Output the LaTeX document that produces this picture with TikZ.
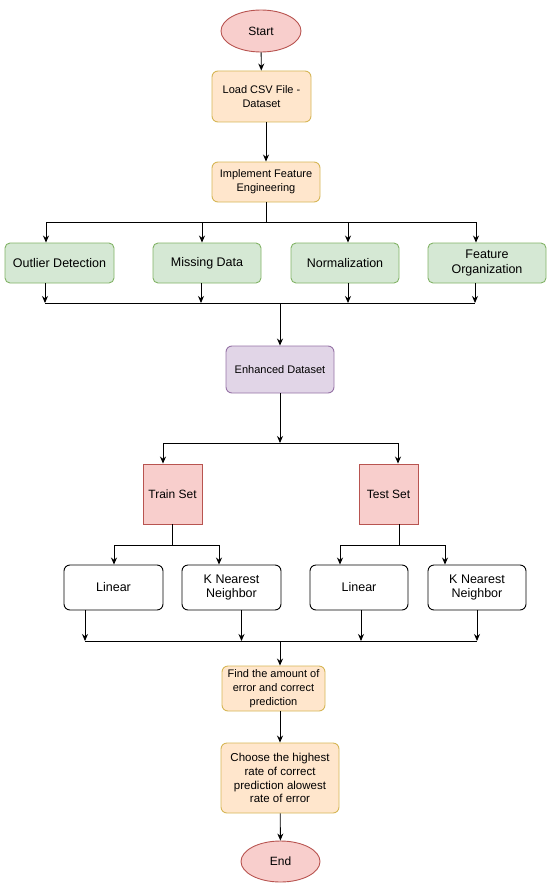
\documentclass[tikz,border=0pt]{standalone}
\usepackage{fontspec}
\setmainfont{Liberation Sans}
\usetikzlibrary{shapes.geometric,arrows.meta}
\definecolor{orfill}{HTML}{FFE6CC}\definecolor{ordraw}{HTML}{D6B656}
\definecolor{grfill}{HTML}{D5E8D4}\definecolor{grdraw}{HTML}{82B366}
\definecolor{pufill}{HTML}{E1D5E7}\definecolor{pudraw}{HTML}{9673A6}
\definecolor{rdfill}{HTML}{F8CECC}\definecolor{rddraw}{HTML}{B85450}
\tikzset{
  base/.style={inner sep=0pt, align=center, font=\fontsize{11}{13.8}\selectfont, line width=0.9pt},
  oval/.style={base, ellipse, fill=rdfill, draw=rddraw, font=\fontsize{12}{14}\selectfont},
  orbox/.style={base, rectangle, rounded corners=6pt, fill=orfill, draw=ordraw},
  grbox/.style={base, rectangle, rounded corners=5pt, fill=grfill, draw=grdraw, minimum height=40pt, font=\fontsize{12.5}{14.5}\selectfont},
  pubox/.style={base, rectangle, rounded corners=6pt, fill=pufill, draw=pudraw},
  rdbox/.style={base, rectangle, fill=rdfill, draw=rddraw, minimum width=59pt, minimum height=60pt, font=\fontsize{12}{14}\selectfont},
  whbox/.style={base, rectangle, rounded corners=6pt, fill=white, draw=black, minimum height=45pt, font=\fontsize{12.5}{14.8}\selectfont},
  conn/.style={line width=0.9pt, draw=black},
  arr/.style={conn, -{Stealth[length=7pt,width=6pt]}}
}
\begin{document}
\begin{tikzpicture}[x=1pt,y=-1pt]
\useasboundingbox (0,0) rectangle (550,888);
% nodes
\node[oval, minimum width=80pt, minimum height=42pt] (start) at (261,31) {Start};
\node[orbox, minimum width=99pt, minimum height=51pt] (load) at (261.5,96.5) {Load CSV File -\\Dataset};
\node[orbox, minimum width=108pt, minimum height=40pt] (impl) at (266,182) {Implement Feature\\Engineering};
\node[grbox, minimum width=109pt] (out) at (59.5,263) {Outlier Detection};
\node[grbox, minimum width=108pt] (miss) at (207,263) {Missing Data};
\node[grbox, minimum width=108pt] (norm) at (345,263) {Normalization};
\node[grbox, minimum width=118pt] (feat) at (487,263) {Feature\\Organization};
\node[pubox, minimum width=108pt, minimum height=47pt] (enh) at (280,369.5) {Enhanced Dataset};
\node[rdbox] (train) at (172.5,494) {Train Set};
\node[rdbox] (test) at (388.5,494) {Test Set};
\node[whbox, minimum width=99pt] (lin1) at (113.5,587.5) {Linear};
\node[whbox, minimum width=99pt] (knn1) at (231.5,587.5) {K Nearest\\Neighbor};
\node[whbox, minimum width=98pt] (lin2) at (359,587.5) {Linear};
\node[whbox, minimum width=98pt] (knn2) at (477,587.5) {K Nearest\\Neighbor};
\node[orbox, minimum width=103pt, minimum height=45pt] (find) at (273.5,688.5) {Find the amount of\\error and correct\\prediction};
\node[orbox, minimum width=118pt, minimum height=70pt, font=\fontsize{11.5}{13.8}\selectfont] (choose) at (280,778) {Choose the highest\\rate of correct\\prediction alowest\\rate of error};
\node[oval, minimum width=79pt, minimum height=41pt] (end) at (280.5,861.5) {End};
% junction coordinates
\coordinate (ya) at (266,222);
\coordinate (ta1) at (46,222); \coordinate (ta2) at (202,222);
\coordinate (ta3) at (348,222); \coordinate (ta4) at (476,222);
\coordinate (tb1) at (45,303); \coordinate (tb2) at (201,303);
\coordinate (tb3) at (348,303); \coordinate (tb4) at (475,303);
\coordinate (tbm) at (280,303);
\coordinate (tc) at (280,443);
\coordinate (tcl) at (163,443); \coordinate (tcr) at (398,443);
\coordinate (td) at (172.5,545); \coordinate (tdl) at (114,545); \coordinate (tdr) at (219,545);
\coordinate (te) at (399,545); \coordinate (tel) at (340,545); \coordinate (ter) at (445,545);
\coordinate (tf1) at (85,641); \coordinate (tf2) at (241.5,641);
\coordinate (tf3) at (361,641); \coordinate (tf4) at (477,641);
\coordinate (tfm) at (280,641);
% connectors
\draw[arr] (start) -- (load);
\draw[arr] (load.south -| impl.north) -- (impl.north);
\draw[conn] (impl.south) -- (ya);
\draw[conn] (ta1) -- (ta4);
\draw[arr] (ta1) -- (ta1 |- out.north);
\draw[arr] (ta2) -- (ta2 |- miss.north);
\draw[arr] (ta3) -- (ta3 |- norm.north);
\draw[arr] (ta4) -- (ta4 |- feat.north);
\draw[arr] (tb1 |- out.south) -- (tb1);
\draw[arr] (tb2 |- miss.south) -- (tb2);
\draw[arr] (tb3 |- norm.south) -- (tb3);
\draw[arr] (tb4 |- feat.south) -- (tb4);
\draw[conn] (tb1) -- (tb4);
\draw[arr] (tbm) -- (tbm |- enh.north);
\draw[arr] (enh.south) -- (tc);
\draw[conn] (tcl) -- (tcr);
\draw[arr] (tcl) -- (tcl |- train.north);
\draw[arr] (tcr) -- (tcr |- test.north);
\draw[conn] (train.south) -- (td);
\draw[conn] (tdl) -- (tdr);
\draw[arr] (tdl) -- (tdl |- lin1.north);
\draw[arr] (tdr) -- (tdr |- knn1.north);
\draw[conn] (te |- test.south) -- (te);
\draw[conn] (tel) -- (ter);
\draw[arr] (tel) -- (tel |- lin2.north);
\draw[arr] (ter) -- (ter |- knn2.north);
\draw[arr] (tf1 |- lin1.south) -- (tf1);
\draw[arr] (tf2 |- knn1.south) -- (tf2);
\draw[arr] (tf3 |- lin2.south) -- (tf3);
\draw[arr] (tf4 |- knn2.south) -- (tf4);
\draw[conn] (tf1) -- (tf4);
\draw[arr] (tfm) -- (tfm |- find.north);
\draw[arr] (choose.north |- find.south) -- (choose.north);
\draw[arr] (choose) -- (end);
\end{tikzpicture}
\end{document}
